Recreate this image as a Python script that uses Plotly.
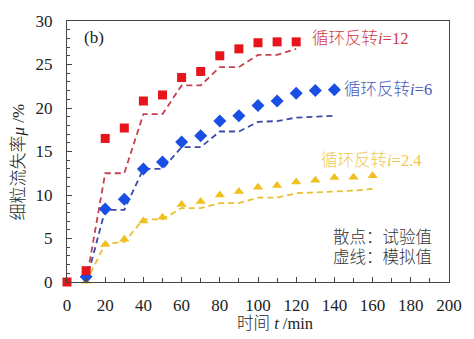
import plotly.graph_objects as go

# ---- data ----
t_exp_12 = [0, 10, 20, 30, 40, 50, 60, 70, 80, 90, 100, 110, 120]
mu_exp_12 = [0, 1.3, 16.5, 17.7, 20.8, 21.5, 23.5, 24.2, 26.0, 26.8, 27.5, 27.6, 27.6]
t_sim_12 = [10, 20, 30, 40, 50, 60, 70, 80, 90, 100, 110, 120]
mu_sim_12 = [0, 12.5, 12.5, 19.3, 19.3, 22.6, 22.6, 24.7, 24.7, 26.1, 26.1, 26.8]

t_exp_6 = [10, 20, 30, 40, 50, 60, 70, 80, 90, 100, 110, 120, 130, 140]
mu_exp_6 = [0.6, 8.4, 9.5, 13.0, 13.8, 16.1, 16.8, 18.5, 19.1, 20.3, 20.8, 21.7, 22.0, 22.1]
t_sim_6 = [10, 20, 30, 40, 50, 60, 70, 80, 90, 100, 110, 120, 130, 140]
mu_sim_6 = [0, 8.3, 8.3, 13.0, 13.0, 15.5, 15.5, 17.3, 17.3, 18.4, 18.5, 18.9, 19.0, 19.1]

t_exp_24 = [10, 20, 30, 40, 50, 60, 70, 80, 90, 100, 110, 120, 130, 140, 150, 160]
mu_exp_24 = [0.1, 4.3, 4.9, 7.0, 7.45, 8.9, 9.25, 10.0, 10.4, 10.9, 11.1, 11.5, 11.7, 12.0, 12.05, 12.2]
t_sim_24 = [10, 20, 30, 40, 50, 60, 70, 80, 90, 100, 110, 120, 130, 140, 150, 160]
mu_sim_24 = [0, 4.4, 4.6, 7.2, 7.2, 8.5, 8.5, 9.06, 9.06, 9.7, 9.7, 10.2, 10.3, 10.4, 10.5, 10.7]

x_ticks = [0, 20, 40, 60, 80, 100, 120, 140, 160, 180, 200]
y_ticks = [0, 5, 10, 15, 20, 25, 30]

RED, RED_L = "#e8141c", "#c4404e"
BLUE, BLUE_L = "#1a4fe6", "#3a4aa8"
YEL, YEL_L = "#f0c020", "#e8c030"

DASH = "6px,4px"

fig = go.Figure()
fig.add_trace(go.Scatter(x=t_sim_24, y=mu_sim_24, mode="lines",
                         line=dict(color=YEL_L, width=1.8, dash=DASH)))
fig.add_trace(go.Scatter(x=t_sim_6, y=mu_sim_6, mode="lines",
                         line=dict(color=BLUE_L, width=1.8, dash=DASH)))
fig.add_trace(go.Scatter(x=t_sim_12, y=mu_sim_12, mode="lines",
                         line=dict(color=RED_L, width=1.8, dash=DASH)))
fig.add_trace(go.Scatter(x=t_exp_24, y=mu_exp_24, mode="markers", cliponaxis=False,
                         marker=dict(symbol="triangle-up", size=9, color=YEL)))
fig.add_trace(go.Scatter(x=t_exp_6, y=mu_exp_6, mode="markers", cliponaxis=False,
                         marker=dict(symbol="diamond", size=10, color=BLUE)))
fig.add_trace(go.Scatter(x=t_exp_12, y=mu_exp_12, mode="markers", cliponaxis=False,
                         marker=dict(symbol="square", size=9, color=RED)))

SERIF = "Liberation Serif, Times New Roman, serif"
CJK = "Liberation Serif, Noto Sans CJK SC, serif"

axis_common = dict(
    showline=True, linecolor="#444444", linewidth=1.2, mirror=True,
    ticks="inside", ticklen=5, tickcolor="#444444",
    showgrid=False, zeroline=False,
    tickfont=dict(family=SERIF, size=17, color="#222222"),
)
fig.update_xaxes(range=[0, 200], tickvals=x_ticks, ticklabelstandoff=7,
                 minor=dict(ticks="inside", ticklen=4, dtick=10, tickcolor="#444444"),
                 **axis_common)
fig.update_yaxes(range=[0, 30], tickvals=y_ticks, ticklabelstandoff=10,
                 minor=dict(ticks="inside", ticklen=3, dtick=1, tickcolor="#444444"),
                 **axis_common)

annos = [
    dict(x=0.039, y=0.935, text="(b)", color="#222222", fam=SERIF, size=17, xa="left"),
    dict(x=0.635, y=0.932, text="循环反转<i>i</i>=12", color="#d03a48", fam=CJK, size=16.5, xa="left"),
    dict(x=0.721, y=0.738, text="循环反转<i>i</i>=6", color="#4a58b8", fam=CJK, size=16.5, xa="left"),
    dict(x=0.66, y=0.465, text="循环反转<i>i</i>=2.4", color="#ecc850", fam=CJK, size=16.5, xa="left"),
    dict(x=0.69, y=0.17, text="散点：试验值", color="#333333", fam=CJK, size=16.5, xa="left"),
    dict(x=0.69, y=0.095, text="虚线：模拟值", color="#333333", fam=CJK, size=16.5, xa="left"),
]
for a in annos:
    fig.add_annotation(x=a["x"], y=a["y"], xref="paper", yref="paper", text=a["text"],
                       showarrow=False, xanchor=a["xa"], yanchor="middle",
                       font=dict(family=a["fam"], size=a["size"], color=a["color"], weight=300))

# axis titles
fig.add_annotation(x=0.544, y=-0.159, xref="paper", yref="paper",
                   text="时间 <i>t</i> /min", showarrow=False,
                   xanchor="center", yanchor="middle",
                   font=dict(family=CJK, size=16.5, color="#222222", weight=300))
fig.add_annotation(x=-0.128, y=0.458, xref="paper", yref="paper",
                   text="细粒流失率<i>μ</i> /%", showarrow=False, textangle=-90,
                   xanchor="center", yanchor="middle",
                   font=dict(family=CJK, size=17, color="#222222", weight=300))

fig.update_layout(
    width=474, height=339,
    margin=dict(l=67, r=17, t=15, b=57),
    paper_bgcolor="white", plot_bgcolor="white",
    showlegend=False,
)
fig.write_html("out.html")
